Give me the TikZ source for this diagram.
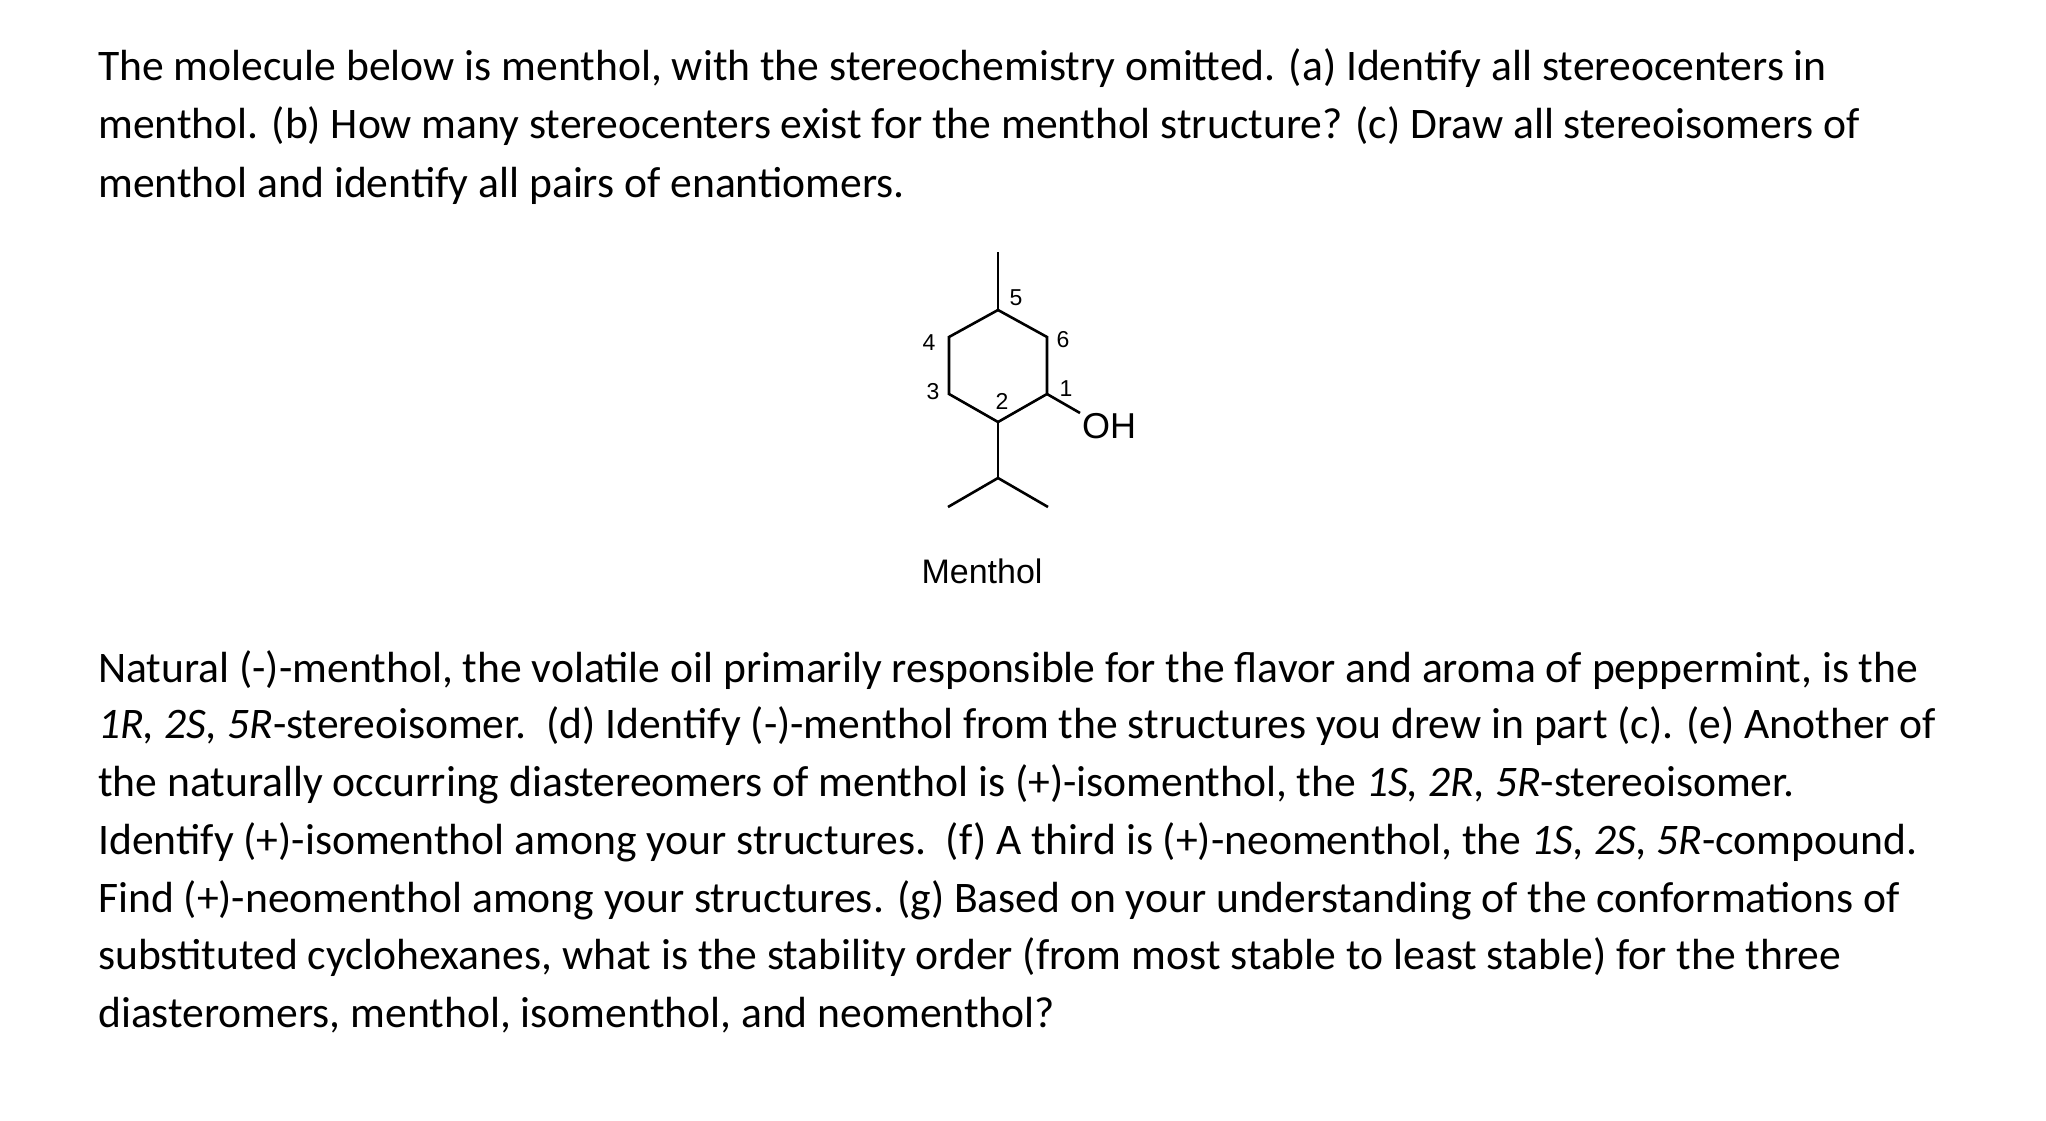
\documentclass[tikz,border=0pt]{standalone}
\usepackage{fontspec}
\setmainfont{Carlito}
\newfontfamily\arial{Liberation Sans}
\begin{document}
\begin{tikzpicture}[x=1pt,y=-1pt,
  para/.style={anchor=base west,inner sep=0pt,font=\fontsize{43.6}{48}\selectfont},
  num/.style={inner sep=0pt,font=\arial\fontsize{23}{25}\selectfont},
  bond/.style={line width=2.6pt,line join=miter}]
\useasboundingbox[fill=white] (0,0) rectangle (2046,1121);
\node[para] (p1) at (98,81) {The molecule below is menthol, with the stereochemistry omitted. (a) Identify all stereocenters in};
\node[para] (p2) at (98,139) {menthol. (b) How many stereocenters exist for the menthol structure? (c) Draw all stereoisomers of};
\node[para] (p3) at (98,197) {menthol and identify all pairs of enantiomers.};
% molecule
\coordinate (m5) at (998,252);
\coordinate (c5) at (998,310);
\coordinate (c6) at (1047,337);
\coordinate (c1) at (1047,394);
\coordinate (c2) at (998,422);
\coordinate (c3) at (949,394);
\coordinate (c4) at (949,337);
\coordinate (ch) at (998,478);
\coordinate (ma) at (948,507);
\coordinate (mb) at (1048,507);
\coordinate (o) at (1080,413);
\draw[bond] (c5)--(c6)--(c1)--(c2)--(c3)--(c4)--cycle;
\draw[bond] (m5)--(c5);
\draw[bond] (c2)--(ch);
\draw[bond] (ma)--(ch)--(mb);
\draw[bond] (c1)--(o);
\node[inner sep=0pt,anchor=west,font=\arial\fontsize{36}{40}\selectfont] (oh) at (1082,426) {OH};
\node[num] (l5) at (1016,298) {5};
\node[num] (l6) at (1063,340) {6};
\node[num] (l4) at (929,343) {4};
\node[num] (l3) at (933,392) {3};
\node[num] (l2) at (1002,401) {2};
\node[num] (l1) at (1066,389) {1};
\node[inner sep=0pt,anchor=base,font=\arial\fontsize{34}{38}\selectfont] (name) at (982,583) {Menthol};
% paragraph 2
\node[para] (q1) at (98,682) {Natural (-)-menthol, the volatile oil primarily responsible for the flavor and aroma of peppermint, is the};
\node[para] (q2) at (98,738) {\textit{1R, 2S, 5R}-stereoisomer.\ \ (d) Identify (-)-menthol from the structures you drew in part (c). (e) Another of};
\node[para] (q3) at (98,796) {the naturally occurring diastereomers of menthol is (+)-isomenthol, the \textit{1S, 2R, 5R}-stereoisomer.};
\node[para] (q4) at (98,854) {Identify (+)-isomenthol among your structures.\ \ (f) A third is (+)-neomenthol, the \textit{1S, 2S, 5R}-compound.};
\node[para] (q5) at (98,912) {Find (+)-neomenthol among your structures. (g) Based on your understanding of the conformations of};
\node[para] (q6) at (98,969) {substituted cyclohexanes, what is the stability order (from most stable to least stable) for the three};
\node[para] (q7) at (98,1027) {diasteromers, menthol, isomenthol, and neomenthol?};
\end{tikzpicture}
\end{document}
